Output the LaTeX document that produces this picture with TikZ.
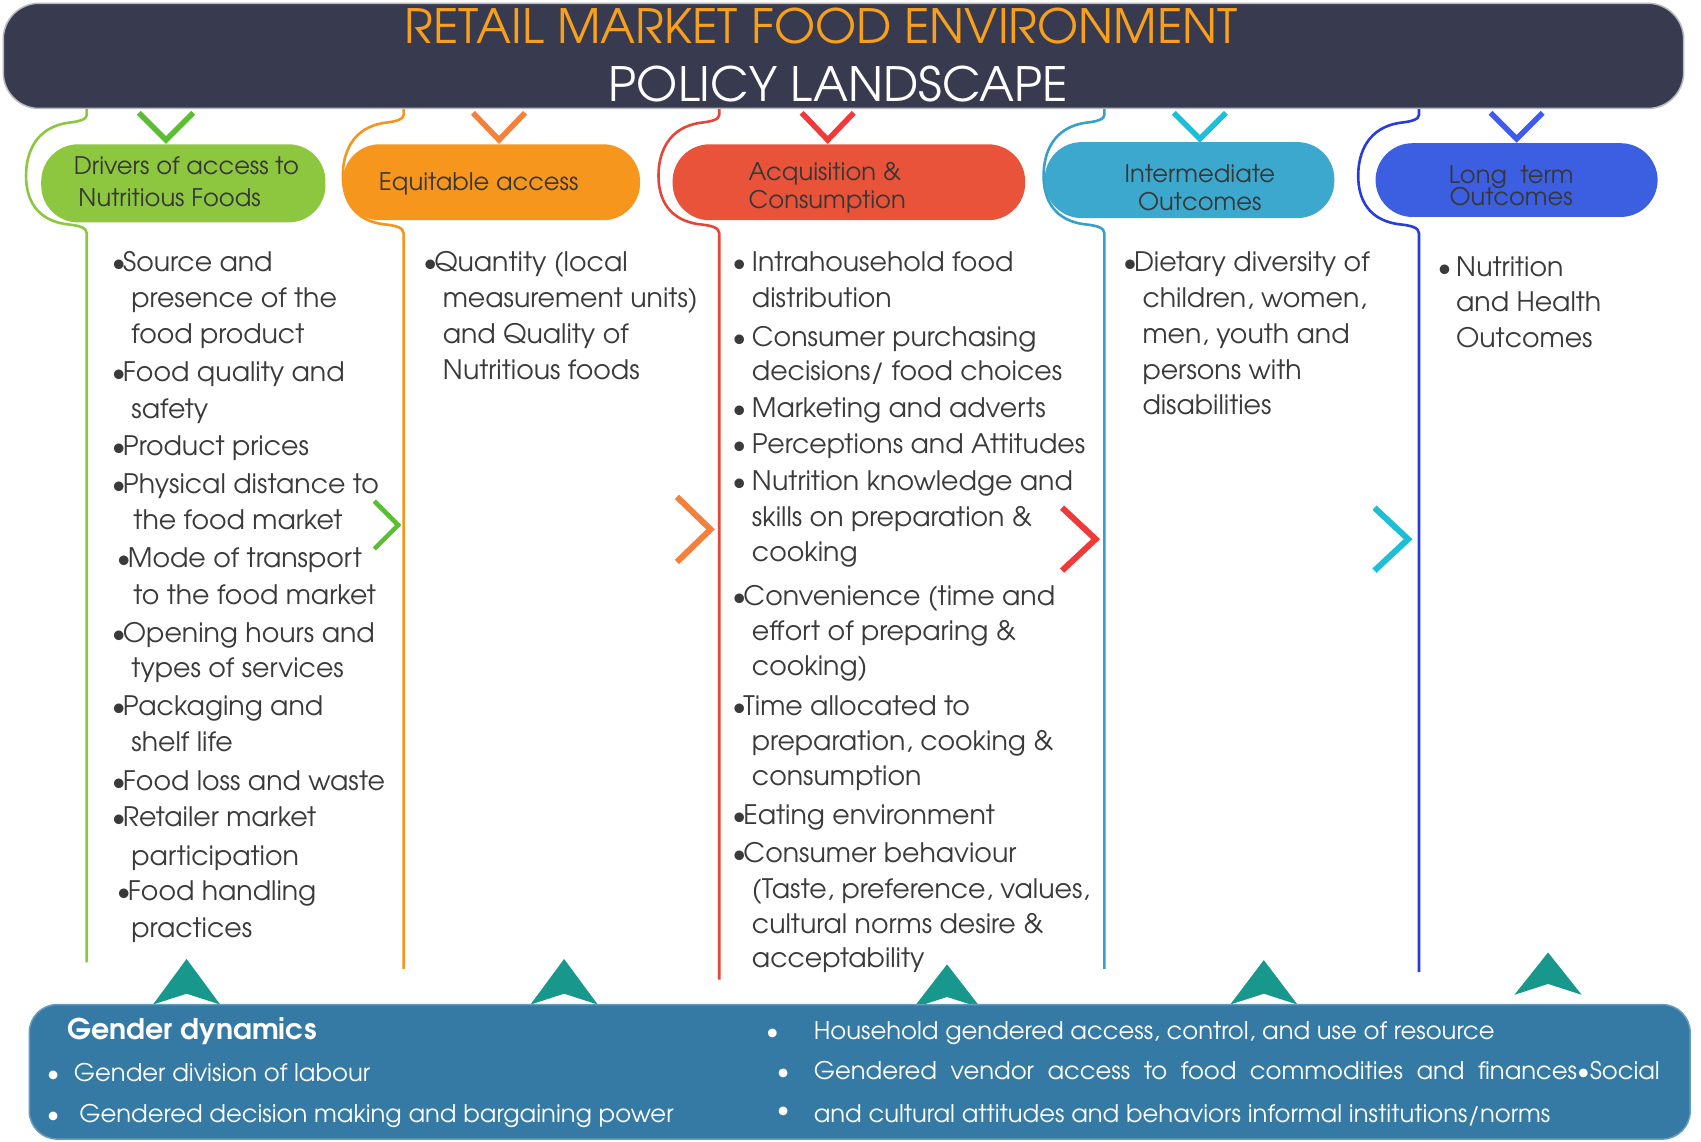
\documentclass[tikz,border=0pt]{standalone}
\usepackage{fontspec}
\setmainfont{TeX Gyre Adventor}
\definecolor{barbg}{RGB}{56,58,79}
\definecolor{titleor}{RGB}{248,160,28}
\definecolor{pgreen}{RGB}{141,198,63}
\definecolor{porange}{RGB}{247,150,29}
\definecolor{pred}{RGB}{232,83,58}
\definecolor{pcyan}{RGB}{60,168,205}
\definecolor{pblue}{RGB}{59,95,224}
\definecolor{lgreen}{RGB}{141,198,63}
\definecolor{lorange}{RGB}{247,148,29}
\definecolor{lred}{RGB}{230,70,55}
\definecolor{lcyan}{RGB}{55,160,200}
\definecolor{lblue}{RGB}{40,60,220}
\definecolor{vgreen}{RGB}{90,190,50}
\definecolor{vorange}{RGB}{244,128,60}
\definecolor{vred}{RGB}{240,58,58}
\definecolor{vcyan}{RGB}{30,190,215}
\definecolor{vblue}{RGB}{64,90,240}
\definecolor{tealarr}{RGB}{24,152,140}
\definecolor{boxblue}{RGB}{52,122,164}
\definecolor{textgray}{RGB}{58,58,58}
\definecolor{pilltext}{RGB}{55,55,55}
\newcommand\bul[1][11pt]{\makebox[#1][l]{•}}
\newcommand\ind{\hspace*{19.5pt}}
\newcommand\colbracket[3]{%
  \draw[#3, line width=2.6pt] (#1,100) -- (#1,106)
    .. controls (#1,110) and (#1-7,112) .. (#1-16,113)
    .. controls (#1-48,117) and (#1-56,142) .. (#1-56,162)
    .. controls (#1-56,183) and (#1-47,204) .. (#1-16,207)
    .. controls (#1-7,208) and (#1,210) .. (#1,215) -- (#1,#2);}
\newcommand\tealhead[3]{%
  \fill[tealarr] (#1,#2) -- (#1+31,#3) -- (#1,#3-10) -- (#1-31,#3) -- cycle;}
\begin{document}
\begin{tikzpicture}[x=1.0848pt,y=-1.0848pt,
  title/.style={inner sep=0pt, font=\fontsize{47.3}{50}\selectfont, text height=35pt, text depth=0pt},
  body/.style={anchor=west, inner sep=0pt, text=textgray, font=\fontsize{26.8}{30}\selectfont, text height=25.5pt, text depth=5pt},
  ptext/.style={anchor=west, inner sep=0pt, text=pilltext, font=\fontsize{24.2}{27}\selectfont, text height=23.5pt, text depth=4pt},
  btext/.style={anchor=west, inner sep=0pt, text=white, font=\fontsize{24.3}{27}\selectfont, text height=25.6pt, text depth=4pt},
  pill/.style={rounded corners=37pt},
  chev/.style={line width=5.5pt, line join=miter},
  rchev/.style={line width=6pt, line join=miter}]
\useasboundingbox (0,0) rectangle (1568,1052);
\fill[white] (0,0) rectangle (1568,1052);

% column lines with brackets
\colbracket{80}{887}{lgreen}
\colbracket{372}{893}{lorange}
\colbracket{663}{903}{lred}
\colbracket{1018}{893}{lcyan}
\colbracket{1308}{896}{lblue}

% title bar
\draw[fill=barbg, draw=gray!55, line width=1.5pt, rounded corners=36pt] (3,3) rectangle (1552,100);
\node[title, text=titleor] (t1) at (757,24) {RETAIL MARKET FOOD ENVIRONMENT};
\node[title, text=white] (t2) at (773,77) {POLICY LANDSCAPE};

% pills
\fill[pill, pgreen] (38,133) rectangle (300,205);
\fill[pill, porange] (316,133) rectangle (590,203);
\fill[pill, pred] (620,133) rectangle (945,203);
\fill[pill, pcyan] (963,131) rectangle (1230,201);
\fill[pill, pblue] (1268,132) rectangle (1528,200);

\node[ptext] (p1a) at (68,152) {Drivers of access to};
\node[ptext] (p1b) at (72,181) {Nutritious Foods};
\node[ptext] (p2) at (349,167) {Equitable access};
\node[ptext] (p3a) at (690,157) {Acquisition \&};
\node[ptext] (p3b) at (690,183) {Consumption};
\node[ptext, anchor=center] (p4a) at (1106,159) {Intermediate};
\node[ptext, anchor=center] (p4b) at (1106,185) {Outcomes};
\node[ptext, anchor=center] (p5a) at (1393,160) {Long\ \ term};
\node[ptext, anchor=center] (p5b) at (1393,180) {Outcomes};

% down chevrons
\draw[chev, vgreen] (128,104) -- (153,129) -- (178,104);
\draw[chev, vorange] (436,104) -- (460,129) -- (484,104);
\draw[chev, vred] (739,104) -- (763,129) -- (787,104);
\draw[chev, vcyan] (1082,104) -- (1106,128) -- (1130,104);
\draw[chev, vblue] (1374,104) -- (1398,128) -- (1422,104);

% right chevrons
\draw[rchev, vgreen, line width=4.5pt] (345,462) -- (367,484) -- (345,506);
\draw[rchev, vorange] (624,458) -- (655,488) -- (624,518);
\draw[rchev, vred] (979,468) -- (1010,497) -- (979,526);
\draw[rchev, vcyan] (1267,468) -- (1298,497) -- (1267,526);

% column texts
\foreach \yy/\t [count=\i] in {
  241/{\bul Source and}, 274/{\ind presence of the}, 307/{\ind food product},
  342/{\bul Food quality and}, 376/{\ind safety}, 410/{\bul Product prices},
  445/{\bul Physical distance to}, 479/{\ind\hspace*{2pt}the food market},
  514/{\hspace*{5pt}\bul Mode of transport}, 548/{\ind\hspace*{2pt}to the food market},
  583/{\bul Opening hours and}, 615/{\ind types of services},
  650/{\bul Packaging and}, 683/{\ind shelf life}, 719/{\bul Food loss and waste},
  752/{\bul Retailer market}, 788/{\ind participation},
  821/{\hspace*{5pt}\bul Food handling}, 855/{\ind practices}}
  \node[body] (c1-\i) at (103,\yy) {\t};

\foreach \yy/\t [count=\i] in {
  241/{\bul Quantity (local}, 274/{\ind measurement units)},
  307/{\ind and Quality of}, 340/{\ind Nutritious foods}}
  \node[body] (c2-\i) at (390,\yy) {\t};

\foreach \yy/\t [count=\i] in {
  241/{\bul[19.5pt]Intrahousehold food}, 274/{\ind distribution},
  310/{\bul[19.5pt]Consumer purchasing}, 341/{\ind decisions\slash\ food choices},
  375/{\bul[19.5pt]Marketing and adverts}, 409/{\bul[19.5pt]Perceptions and Attitudes},
  443/{\bul[19.5pt]Nutrition knowledge and}, 476/{\ind skills on preparation \&},
  508/{\ind cooking}, 549/{\bul Convenience (time and},
  581/{\ind effort of preparing \&}, 613/{\ind cooking)},
  650/{\bul Time allocated to}, 682/{\ind preparation, cooking \&},
  715/{\ind consumption}, 751/{\bul Eating environment},
  786/{\bul Consumer behaviour}, 819/{\ind (Taste, preference, values,},
  851/{\ind cultural norms desire \&}, 882/{\ind acceptability}}
  \node[body] (c3-\i) at (675,\yy) {\t};

\foreach \yy/\t [count=\i] in {
  241/{\bul Dietary diversity of}, 274/{\ind children, women,},
  307/{\ind men, youth and}, 340/{\ind persons with}, 373/{\ind disabilities}}
  \node[body] (c4-\i) at (1035,\yy) {\t};

\foreach \yy/\t [count=\i] in {
  245/{\bul[18.5pt]Nutrition}, 278/{\hspace*{18.5pt}and Health}, 311/{\hspace*{18.5pt}Outcomes}}
  \node[body] (c5-\i) at (1325,\yy) {\t};

% teal up arrowheads
\tealhead{172}{884}{926}
\tealhead{520}{884}{926}
\tealhead{873}{889}{929}
\tealhead{1165}{885}{926}
\tealhead{1427}{878}{917}

% bottom box
\draw[fill=boxblue, draw=boxblue!75!white, line width=1.5pt, rounded corners=28pt] (27,926) rectangle (1558,1050);
\node[btext, font=\fontsize{28.5}{31}\selectfont\bfseries] (g0) at (62,948) {Gender dynamics};
\node[btext] (gb1) at (43,987) {•};
\node[btext] (g1) at (68,987) {Gender division of labour};
\node[btext] (gb2) at (43,1025) {•};
\node[btext] (g2) at (73,1025) {Gendered decision making and bargaining power};
\node[btext] (hb1) at (706,948) {•};
\node[btext] (h1) at (750,948) {Household gendered access, control, and use of resource};
\node[btext] (hb2) at (716,985) {•};
\node[btext] (h2) at (750,985) {\makebox[846pt][s]{Gendered vendor access to food commodities and finances•Social}};
\node[btext] (hb3) at (716,1020) {•};
\node[btext] (h3) at (750,1025) {and cultural attitudes and behaviors informal institutions/norms};
\end{tikzpicture}
\end{document}
